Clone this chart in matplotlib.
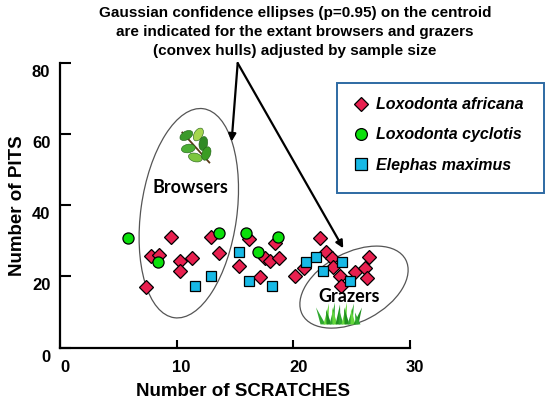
import matplotlib
matplotlib.use("Agg")
import matplotlib.pyplot as plt
from matplotlib.patches import Ellipse, Rectangle, Polygon
from matplotlib.lines import Line2D
from matplotlib.transforms import ScaledTranslation

plt.rcParams['font.family'] = ['Liberation Sans', 'DejaVu Sans']

# --- data (scratches, pits) ---
africana_x = [9.5, 7.8, 8.5, 10.3, 11.3, 10.3, 7.4, 12.9, 13.6, 16.2, 15.3, 18.4, 17.6, 18.0,
              18.8, 17.1, 20.1, 20.9, 22.3, 22.8, 23.3, 23.4, 24.0, 24.1, 25.3, 26.1, 26.5, 26.3]
africana_y = [31.0, 25.8, 26.0, 24.4, 25.1, 21.6, 17.0, 31.0, 26.7, 30.5, 22.9, 29.3, 25.1, 24.4,
              25.2, 19.8, 20.1, 22.3, 30.7, 26.8, 25.1, 22.8, 20.0, 17.4, 21.3, 22.5, 25.4, 19.7]

cyclotis_x = [5.8, 8.4, 13.6, 15.9, 18.7, 17.0]
cyclotis_y = [30.8, 24.1, 32.2, 32.3, 31.0, 26.9]

maximus_x = [12.9, 11.6, 15.3, 16.2, 18.2, 21.1, 21.9, 22.5, 24.2, 24.9]
maximus_y = [20.1, 17.3, 26.9, 18.8, 17.3, 24.1, 25.6, 21.5, 24.2, 18.7]

species = ['Loxodonta africana', 'Loxodonta cyclotis', 'Elephas maximus']
x_ticks = [0, 10, 20, 30]
y_ticks = [0, 20, 40, 60, 80]

title_lines = ['Gaussian confidence ellipses (p=0.95) on the centroid',
               'are indicated for the extant browsers and grazers',
               '(convex hulls) adjusted by sample size']

# ellipses: centre (data), width/height (inches), angle
browsers_ell = dict(center=(11.04, 37.8), w=0.96, h=2.11, angle=-7.9)
grazers_ell = dict(center=(25.2, 17.0), w=1.17, h=0.69, angle=28)

red = '#E8204F'
green = '#0BE00B'
blue = '#17B9E6'

fig = plt.figure(figsize=(5.5, 4.05), dpi=100)
ax = fig.add_axes([60 / 550, 1 - 347.5 / 405, 350 / 550, 284.2 / 405])

ax.plot(africana_x, africana_y, 'D', ms=7.2, mfc=red, mec='black', mew=0.9, ls='none', zorder=3)
ax.plot(maximus_x, maximus_y, 's', ms=7.5, mfc=blue, mec='black', mew=0.9, ls='none', zorder=4)
ax.plot(cyclotis_x, cyclotis_y, 'o', ms=8, mfc=green, mec='black', mew=0.9, ls='none', zorder=5)

ax.set_xlim(0, 30)
ax.set_ylim(0, 80)
ax.set_xticks(x_ticks)
ax.set_yticks(y_ticks)
for s in ['top', 'right']:
    ax.spines[s].set_visible(False)
for s in ['left', 'bottom']:
    ax.spines[s].set_linewidth(1.6)
ax.tick_params(axis='y', direction='in', length=8, width=1.5, pad=7, labelsize=12)
ax.tick_params(axis='x', direction='in', length=6, width=1.5, pad=9, labelsize=12)
for lab in ax.get_yticklabels():
    lab.set_fontweight('bold')
    lab.set_transform(lab.get_transform() + ScaledTranslation(0, -0.08, fig.dpi_scale_trans))
for lab in ax.get_xticklabels():
    lab.set_fontweight('bold')
    lab.set_transform(lab.get_transform() + ScaledTranslation(0.05, 0, fig.dpi_scale_trans))

ax.set_xlabel('Number of SCRATCHES', fontsize=13.5, fontweight='bold')
ax.set_ylabel('Number of PITS', fontsize=13.5, fontweight='bold')
ax.xaxis.set_label_coords(0.523, -0.125)
ax.yaxis.set_label_coords(-0.097, 0.5)

# confidence ellipses
for e in [browsers_ell, grazers_ell]:
    tr = fig.dpi_scale_trans + ScaledTranslation(e['center'][0], e['center'][1], ax.transData)
    ax.add_patch(Ellipse((0, 0), e['w'], e['h'], angle=e['angle'], transform=tr,
                         fill=False, ec='#555555', lw=0.9, zorder=2))

ax.text(11.2, 44.9, 'Browsers', family='Lato', fontweight='bold', fontsize=13,
        ha='center', va='center', zorder=6)
ax.text(24.79, 14.3, 'Grazers', family='Lato', fontweight='bold', fontsize=13,
        ha='center', va='center', zorder=6)

# little leaf icon
leaf_tr = fig.dpi_scale_trans + ScaledTranslation(11.6, 56.3, ax.transData)
ax.plot([-0.13, 0.14], [0.15, -0.15], color='#5a3a1a', lw=1.3, transform=leaf_tr, zorder=6)
leaves = [(-0.09, 0.12, 30, '#3c9a2a'), (0.03, 0.13, 60, '#a6d64e'), (-0.07, -0.01, 10, '#4caf35'),
          (0.08, 0.04, 80, '#2f8a24'), (0.00, -0.10, -15, '#7cc63f'), (0.11, -0.06, 70, '#3a9d23')]
for lx, ly, ang, col in leaves:
    ax.add_patch(Ellipse((lx, ly), 0.14, 0.085, angle=ang, transform=leaf_tr,
                         fc=col, ec='#1f5e16', lw=0.4, zorder=7))

# little grass icon
grass_tr = fig.dpi_scale_trans + ScaledTranslation(24.0, 6.5, ax.transData)
blades = [(-0.17, -0.24, 0.17), (-0.14, -0.11, 0.21), (-0.11, -0.14, 0.15), (-0.08, -0.05, 0.22),
          (-0.05, -0.08, 0.17), (-0.02, 0.00, 0.20), (0.01, -0.01, 0.15), (0.04, 0.07, 0.22),
          (0.07, 0.04, 0.17), (0.10, 0.14, 0.21), (0.13, 0.11, 0.16), (0.16, 0.22, 0.17),
          (0.18, 0.15, 0.12)]
for i, (bx, tx, ht) in enumerate(blades):
    col = ['#2fa82f', '#66d83c', '#1e8f1e'][i % 3]
    ax.add_patch(Polygon([(bx - 0.025, 0), (bx + 0.025, 0), (tx, ht)], closed=True,
                         transform=grass_tr, fc=col, ec='none', zorder=6))

# arrows from the title note
apex = (15.23, 80.06)
for tip in [(14.71, 57.97), (24.28, 27.94)]:
    ax.annotate('', xy=tip, xytext=apex, annotation_clip=False,
                arrowprops=dict(arrowstyle='-|>', color='black', lw=1.6, mutation_scale=11,
                                shrinkA=0, shrinkB=0), zorder=8)

for i, line in enumerate(title_lines):
    fig.text(295 / 550, 1 - (13 + 19 * i) / 405, line, ha='center', va='center',
             fontsize=11, fontweight='bold')

# legend with hand-drawn frame
fig.patches.append(Rectangle((337 / 550, 1 - 193 / 405), 207 / 550, 110 / 405,
                             transform=fig.transFigure, fill=False, ec='#2E6AA3', lw=1.4))
handles = [Line2D([], [], marker='D', ms=7.5, mfc=red, mec='black', mew=0.9, ls='none'),
           Line2D([], [], marker='o', ms=8.5, mfc=green, mec='black', mew=0.9, ls='none'),
           Line2D([], [], marker='s', ms=8, mfc=blue, mec='black', mew=0.9, ls='none')]
leg = fig.legend(handles, species, loc='upper left', bbox_to_anchor=(342 / 550, 1 - 86 / 405),
                 frameon=False, handlelength=1.0, handletextpad=0.45, labelspacing=0.95,
                 borderpad=0.2, prop=dict(family='Liberation Sans', weight='bold',
                                          style='italic', size=11.5))

fig.savefig('out.png', dpi=100)
